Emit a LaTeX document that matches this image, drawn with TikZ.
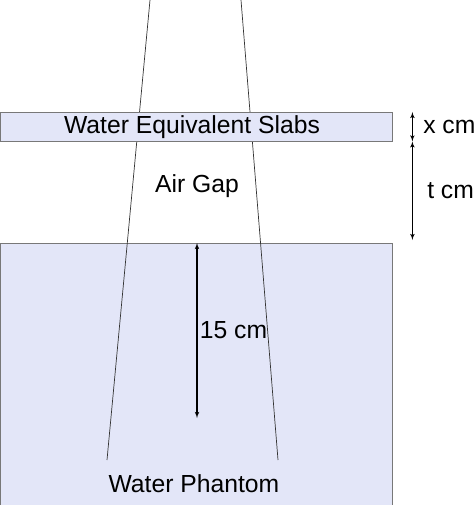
\documentclass[tikz,border=0pt]{standalone}
\usepackage{fontspec}
\setmainfont{Liberation Sans}
\usepackage{xcolor}
\usetikzlibrary{arrows, positioning, calc}
\definecolor{blokfill}{RGB}{227,230,248}
\definecolor{blokline}{RGB}{120,120,120}

\begin{document}
\begin{tikzpicture}[x=1pt, y=-1pt, font=\fontsize{24.7}{29}\selectfont,
  blok/.style={draw=blokline, fill=blokfill, inner sep=0pt, anchor=north west},
  wiazka/.style={draw=black!80, line width=0.7pt},
  wymiar/.style={draw, latex'-latex', line width=1.1pt}]
\useasboundingbox (0,0) rectangle (474,505);
% fantom wodny
\node[blok, minimum width=392pt, minimum height=280pt](fantom) at (0,243) {};
\node[anchor=west](fantomtxt) at (105,484) {Water Phantom};
% wiazka
\coordinate (lewyg) at (150,0);
\coordinate (lewyd) at (107,460);
\coordinate (prawyg) at (241,0);
\coordinate (prawyd) at (278,460);
\path[wiazka](lewyg) -- (lewyd);
\path[wiazka](prawyg) -- (prawyd);
% plyty
\node[blok, minimum width=392pt, minimum height=29pt](plyty) at (0,112) {};
\node(plytytxt) at (192,127) {Water Equivalent Slabs};
\node(szczelina) at (197,186) {Air Gap};
% wymiary
\coordinate (x1) at ($(plyty.north east)+(20,0)$);
\coordinate (x2) at ($(plyty.south east)+(20,0)$);
\coordinate (t2) at ($(fantom.north east)+(20,-3)$);
\path[wymiar](x1) -- node[right, xshift=7pt] {x cm} (x2);
\path[wymiar](x2) -- node[right, xshift=11pt] {t cm} (t2);
\coordinate (g1) at (197,243);
\coordinate (g2) at (197,418);
\path[wymiar](g1) -- node[right, xshift=-1pt] {15 cm} (g2);
\end{tikzpicture}
\end{document}
